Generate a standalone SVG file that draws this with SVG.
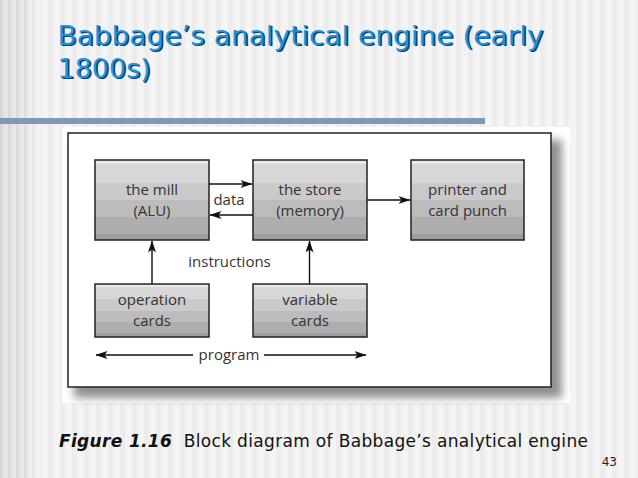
<svg xmlns="http://www.w3.org/2000/svg" width="638" height="478" viewBox="0 0 638 478">
<defs>
<pattern id="stripes" x="0" y="0" width="12" height="10" patternUnits="userSpaceOnUse">
<rect width="12" height="10" fill="#f4f4f4"/>
<rect x="0" width="5" height="10" fill="#ececec"/>
</pattern>
<pattern id="stripesL" x="0" y="0" width="8" height="10" patternUnits="userSpaceOnUse">
<rect width="8" height="10" fill="#e4e4e4"/>
<rect x="0" width="3" height="10" fill="#d6d6d6"/>
</pattern>
<linearGradient id="fadeL" x1="0" y1="0" x2="1" y2="0">
<stop offset="0" stop-color="#fff" stop-opacity="0"/>
<stop offset="0.6" stop-color="#fff" stop-opacity="0.2"/>
<stop offset="1" stop-color="#f4f4f4" stop-opacity="1"/>
</linearGradient>
<linearGradient id="band" x1="0" y1="0" x2="0" y2="1">
<stop offset="0" stop-color="#e8e8e8"/>
<stop offset="0.05" stop-color="#e8e8e8"/>
<stop offset="0.05" stop-color="#d7d7d7"/>
<stop offset="0.29" stop-color="#d7d7d7"/>
<stop offset="0.29" stop-color="#cacaca"/>
<stop offset="0.5" stop-color="#cacaca"/>
<stop offset="0.5" stop-color="#bcbcbc"/>
<stop offset="0.71" stop-color="#bcbcbc"/>
<stop offset="0.71" stop-color="#aeaeae"/>
<stop offset="0.93" stop-color="#aeaeae"/>
<stop offset="0.93" stop-color="#9e9e9e"/>
<stop offset="1" stop-color="#9e9e9e"/>
</linearGradient>
<filter id="blur" x="-10%" y="-10%" width="120%" height="120%">
<feGaussianBlur stdDeviation="4"/>
</filter>
<marker id="ah" viewBox="0 0 12 8" refX="11.5" refY="4" markerWidth="12" markerHeight="8" markerUnits="userSpaceOnUse" orient="auto-start-reverse">
<path d="M0,0 L12,4 L0,8 L3,4 Z" fill="#111"/>
</marker>
</defs>
<style>
.box{stroke:#222;stroke-width:1.5;fill:url(#band)}
.lbl{font-family:"Open Sans","DejaVu Sans",sans-serif;font-size:15px;fill:#333;text-anchor:middle}
.con{stroke:#111;stroke-width:1.4;fill:none}
.title{font-family:"DejaVu Sans",Verdana,sans-serif;font-size:27px}
.cap{font-family:"DejaVu Sans",Verdana,sans-serif;font-size:17px;fill:#111}
</style>
<!-- background -->
<rect width="638" height="478" fill="url(#stripes)"/>
<rect x="0" y="0" width="44" height="478" fill="url(#stripesL)"/>
<rect x="0" y="0" width="44" height="478" fill="url(#fadeL)"/>
<!-- title -->
<g id="title">
<text class="title" x="59" y="46" fill="#0d3d66" textLength="486" lengthAdjust="spacingAndGlyphs">Babbage’s analytical engine (early</text>
<text class="title" x="59" y="79" fill="#0d3d66">1800s)</text>
<text class="title" x="57.5" y="44.5" fill="#1f93dd" textLength="486" lengthAdjust="spacingAndGlyphs">Babbage’s analytical engine (early</text>
<text class="title" x="57.5" y="77.5" fill="#1f93dd">1800s)</text>
</g>
<rect x="0" y="118" width="485" height="6" fill="#7f9ab8"/>
<!-- figure area -->
<rect x="62" y="127" width="508" height="276" fill="#ffffff"/>
<rect x="74" y="140" width="488" height="258" fill="#555" opacity="0.65" filter="url(#blur)"/>
<rect id="frame" x="68" y="133" width="483" height="254" fill="#ffffff" stroke="#222" stroke-width="1.5"/>
<!-- nodes -->
<g id="mill">
<rect class="box" x="95" y="160" width="114" height="80"/>
<text class="lbl" x="152" y="195">the mill</text>
<text class="lbl" x="152" y="216">(ALU)</text>
</g>
<g id="store">
<rect class="box" x="253" y="160" width="114" height="80"/>
<text class="lbl" x="310" y="195">the store</text>
<text class="lbl" x="310" y="216">(memory)</text>
</g>
<g id="printer">
<rect class="box" x="411" y="160" width="113" height="80"/>
<text class="lbl" x="467.5" y="195">printer and</text>
<text class="lbl" x="467.5" y="216">card punch</text>
</g>
<g id="opcards">
<rect class="box" x="95" y="284" width="114" height="53"/>
<text class="lbl" x="152" y="305">operation</text>
<text class="lbl" x="152" y="326">cards</text>
</g>
<g id="varcards">
<rect class="box" x="253" y="284" width="114" height="53"/>
<text class="lbl" x="310" y="305">variable</text>
<text class="lbl" x="310" y="326">cards</text>
</g>
<!-- connectors -->
<g id="connectors">
<line class="con" x1="209" y1="184" x2="252" y2="184" marker-end="url(#ah)"/>
<line class="con" x1="253" y1="215" x2="210" y2="215" marker-end="url(#ah)"/>
<line class="con" x1="367" y1="200" x2="410" y2="200" marker-end="url(#ah)"/>
<line class="con" x1="152" y1="284" x2="152" y2="241" marker-end="url(#ah)"/>
<line class="con" x1="309.5" y1="284" x2="309.5" y2="241" marker-end="url(#ah)"/>
<line class="con" x1="193" y1="355" x2="96" y2="355" marker-end="url(#ah)"/>
<line class="con" x1="264" y1="355" x2="366" y2="355" marker-end="url(#ah)"/>
<text class="lbl" x="229" y="205">data</text>
<text class="lbl" x="229.5" y="267">instructions</text>
<text class="lbl" x="229" y="360">program</text>
</g>
<!-- caption -->
<text class="cap" x="59" y="447" xml:space="preserve" textLength="529" lengthAdjust="spacing"><tspan font-weight="bold" font-style="italic">Figure 1.16</tspan>  Block diagram of Babbage’s analytical engine</text>
<text x="617" y="466" text-anchor="end" font-family="DejaVu Sans,Verdana,sans-serif" font-size="12" fill="#222">43</text>
</svg>
